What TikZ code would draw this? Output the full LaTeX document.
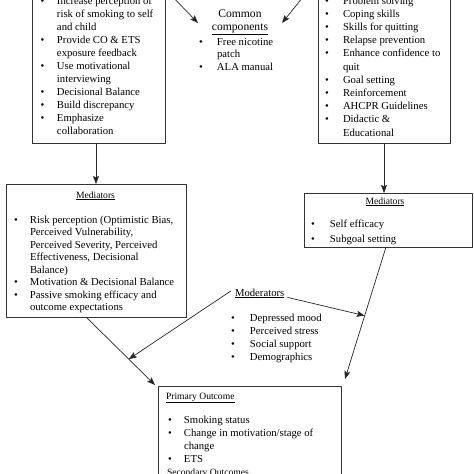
\documentclass[tikz,border=0pt]{standalone}
\usepackage{fontspec}
\setmainfont{Liberation Serif}
\usetikzlibrary{arrows.meta,calc}
\newcommand{\mybul}{\textbullet}
\tikzset{
  box/.style={draw=black!80, line width=0.7pt, inner sep=0pt, outer sep=0pt, anchor=north west},
  arr/.style={draw=black!85, line width=0.7pt, -{Stealth[length=8pt,width=6pt,inset=1.5pt]}},
  ln/.style={draw=black!85, line width=0.7pt},
  txt/.style={inner sep=0pt, outer sep=0pt, anchor=base west, font=\fontsize{10.7}{13}\selectfont},
  ttl/.style={inner sep=0pt, outer sep=0pt, anchor=base, font=\fontsize{9.6}{11}\selectfont},
  big/.style={inner sep=0pt, outer sep=0pt, anchor=base, font=\fontsize{11.6}{13}\selectfont},
}
\begin{document}
\begin{tikzpicture}[x=1pt,y=-1pt]
\useasboundingbox (0,0) rectangle (474,474);
\clip (0,0) rectangle (474,474);
% boxes
\node[box, minimum width=133pt, minimum height=163pt] (lt) at (32,-20) {};
\node[box, minimum width=132pt, minimum height=163pt] (rt) at (318,-20) {};
\node[box, minimum width=180pt, minimum height=133pt] (lm) at (6,184) {};
\node[box, minimum width=168pt, minimum height=54pt] (rm) at (304,193) {};
\node[box, minimum width=183pt, minimum height=120pt] (po) at (158,386) {};
% left top text
\node[txt] (ltx) at (40.5,4) {\begin{tabular}[t]{@{}p{16.5pt}@{}l@{}}
\mybul & Increase perception of\\
 & risk of smoking to self\\
 & and child\\
\mybul & Provide CO \& ETS\\
 & exposure feedback\\
\mybul & Use motivational\\
 & interviewing\\
\mybul & Decisional Balance\\
\mybul & Build discrepancy\\
\mybul & Emphasize\\
 & collaboration
\end{tabular}};
% right top text
\node[txt, font=\fontsize{10.7}{13.2}\selectfont] (rtx) at (325,4) {\begin{tabular}[t]{@{}p{18pt}@{}l@{}}
\mybul & Problem solving\\
\mybul & Coping skills\\
\mybul & Skills for quitting\\
\mybul & Relapse prevention\\
\mybul & Enhance confidence to\\
 & quit\\
\mybul & Goal setting\\
\mybul & Reinforcement\\
\mybul & AHCPR Guidelines\\
\mybul & Didactic \&\\
 & Educational
\end{tabular}};
% common components
\node[big] (cc1) at (240,17) {Common};
\node[big] (cc2) at (240,30) {\underline{components}};
\node[txt, font=\fontsize{10.7}{12.5}\selectfont] (ccx) at (199,45) {\begin{tabular}[t]{@{}p{18pt}@{}l@{}}
\mybul & Free nicotine\\
 & patch\\
\mybul & ALA manual
\end{tabular}};
% left mediators
\node[ttl] (lmt) at (95.5,198) {\underline{Mediators}};
\node[txt, font=\fontsize{10.7}{12.5}\selectfont] (lmx) at (14,223) {\begin{tabular}[t]{@{}p{16pt}@{}l@{}}
\mybul & Risk perception (Optimistic Bias,\\
 & Perceived Vulnerability,\\
 & Perceived Severity, Perceived\\
 & Effectiveness, Decisional\\
 & Balance)\\
\mybul & Motivation \& Decisional Balance\\
\mybul & Passive smoking efficacy and\\
 & outcome expectations
\end{tabular}};
% right mediators
\node[ttl] (rmt) at (385,204) {\underline{Mediators}};
\node[txt, font=\fontsize{10.7}{15}\selectfont] (rmx) at (311,227) {\begin{tabular}[t]{@{}p{19pt}@{}l@{}}
\mybul & Self efficacy\\
\mybul & Subgoal setting
\end{tabular}};
% moderators
\node[txt] (modt) at (235,296) {\underline{Moderators}};
\node[txt, font=\fontsize{10.7}{13.3}\selectfont] (modx) at (231,321) {\begin{tabular}[t]{@{}p{19pt}@{}l@{}}
\mybul & Depressed mood\\
\mybul & Perceived stress\\
\mybul & Social support\\
\mybul & Demographics
\end{tabular}};
% primary outcome
\node[txt, font=\fontsize{9.6}{11}\selectfont] (pot) at (166,399) {\underline{Primary Outcome}};
\node[txt] (pox) at (168,423) {\begin{tabular}[t]{@{}p{16pt}@{}l@{}}
\mybul & Smoking status\\
\mybul & Change in motivation/stage of\\
 & change\\
\mybul & ETS\\
\multicolumn{2}{@{\hspace{-1pt}}l@{}}{\fontsize{9.6}{11}\selectfont\underline{Secondary Outcomes}}
\end{tabular}};
% connectors
\coordinate (inL) at (168,-8);
\coordinate (tipL) at (198,23);
\coordinate (inR) at (307,-8);
\coordinate (tipR) at (282,23);
\draw[arr] (inL) -- (tipL);
\draw[arr] (inR) -- (tipR);
\draw[arr] (lm.north |- lt.south) -- (lm.north);
\draw[arr] (rt.south) -- (rt.south |- rm.north);
\coordinate (lmout) at ([xshift=-10pt]lm.south);
\coordinate (poin) at ([xshift=-3pt,yshift=1pt]po.north west);
\coordinate (lmj) at ($(lmout)!0.62!(poin)$);
\draw[arr] (lmout) -- (poin);
\coordinate (rmout) at ([xshift=-2pt]rm.south);
\coordinate (poinR) at ([xshift=4pt,yshift=7pt]po.north east);
\coordinate (rmj) at ($(rmout)!0.52!(poinR)$);
\draw[arr] (rmout) -- (poinR);
\coordinate (modL) at ([xshift=-4pt,yshift=2.5pt]modt.west);
\coordinate (modR) at ([xshift=3pt,yshift=-4pt]modt.east);
\draw[arr] (modL) -- (lmj);
\draw[arr] (modR) -- (rmj);
\end{tikzpicture}
\end{document}
